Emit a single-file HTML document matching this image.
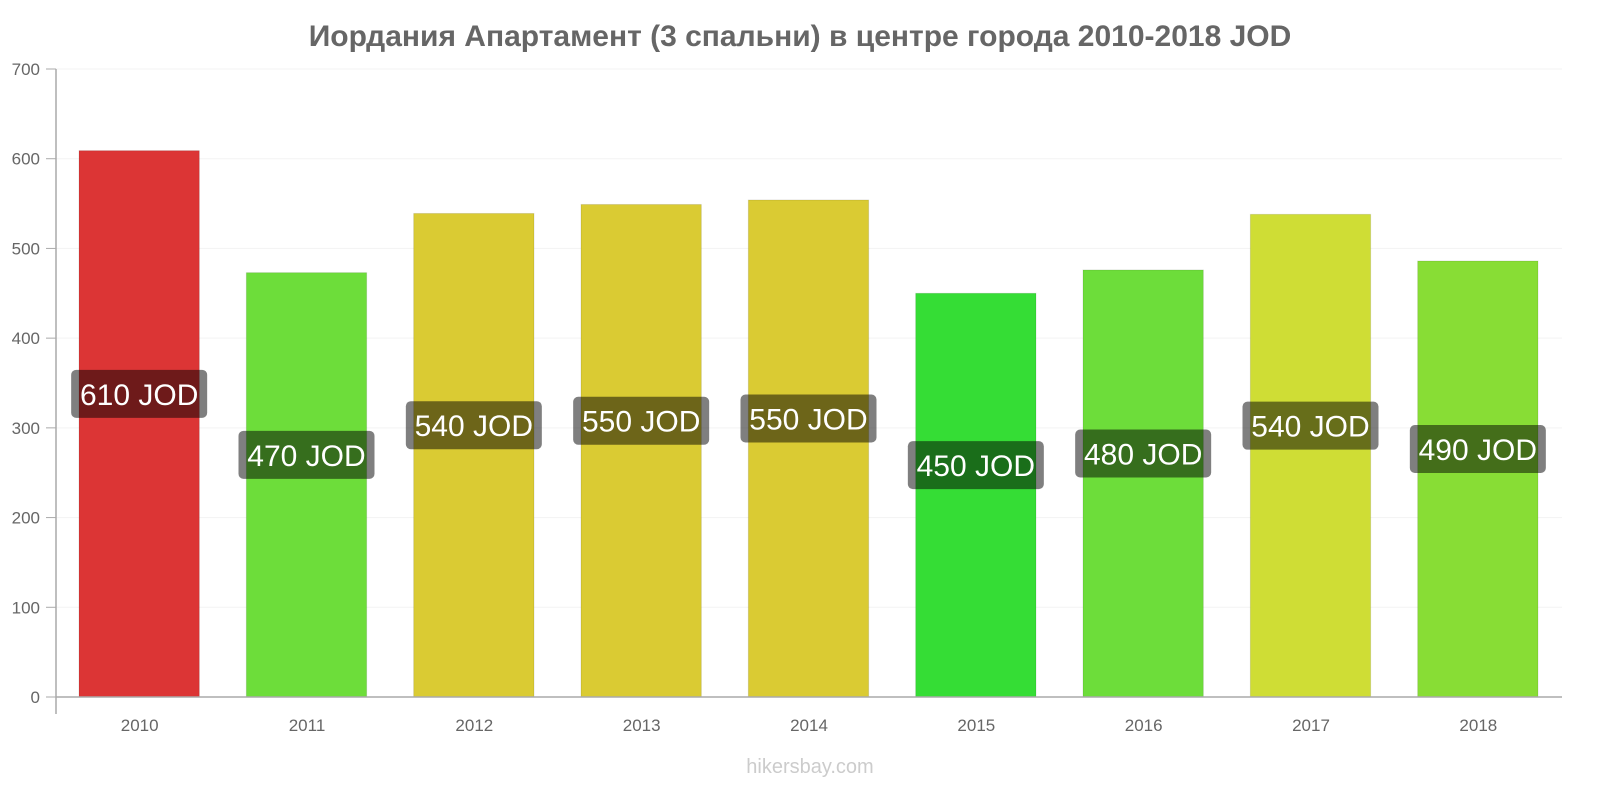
<!DOCTYPE html>
<html><head><meta charset="utf-8"><style>
html,body{margin:0;padding:0;background:#fff;overflow:hidden;width:1600px;height:800px;font-family:"Liberation Sans","DejaVu Sans",sans-serif}
svg{display:block}
</style></head><body>
<svg id="chart" width="1600" height="800" xmlns="http://www.w3.org/2000/svg">
<text x="800" y="46" text-anchor="middle" font-size="30" font-weight="bold" fill="#666">Иордания Апартамент (3 спальни) в центре города 2010-2018 JOD</text>
<g id="grid"></g><g id="bars"></g><g id="labels"></g><g id="axes"></g>
<text x="810" y="773" text-anchor="middle" font-size="20" fill="#ccc">hikersbay.com</text>
</svg>
<script>
const categories=["2010","2011","2012","2013","2014","2015","2016","2017","2018"];
const values=[609,473,539,549,554,450,476,538,486];
const labels=["610 JOD","470 JOD","540 JOD","550 JOD","550 JOD","450 JOD","480 JOD","540 JOD","490 JOD"];
const colors=["#dc3535","#6ddd3a","#dacb33","#dacb33","#dacb33","#35dd35","#6ddd3a","#cfdd35","#88dd35"];
const yTicks=[0,100,200,300,400,500,600,700];
const NS="http://www.w3.org/2000/svg";
const x0=56,x1=1562,y0=697,yTop=69;
const band=(x1-x0)/categories.length;
const y=v=>y0-(v/700)*(y0-yTop);
const bx=i=>x0+i*band;
function mk(t,a,p){const e=document.createElementNS(NS,t);for(const k in a)e.setAttribute(k,a[k]);p.appendChild(e);return e;}
const g=document.getElementById('grid'),b=document.getElementById('bars'),l=document.getElementById('labels'),ax=document.getElementById('axes');
yTicks.forEach(t=>{
 const ln=mk('line',{x1:x0,x2:x1,y1:y(t),y2:y(t),stroke:'#f3f3f3'},g);
 
 
 const tx=mk('text',{x:40,y:y(t)+6,'text-anchor':'end','font-size':17,fill:'#666'},ax);
 tx.textContent=t;
 
 
 mk('line',{x1:46,x2:x0,y1:y(t),y2:y(t),stroke:'#aaa'},ax);
});
mk('line',{x1:x0,x2:x0,y1:yTop,y2:714,stroke:'#aaa','stroke-width':1.5},ax);
mk('line',{x1:x0,x2:x1,y1:y0,y2:y0,stroke:'#aaa','stroke-width':1.5},ax);
categories.forEach((c,i)=>{
 const left=bx(i)+23,w=band-47,top=y(values[i]);
 const r=mk('rect',{x:left,y:top,width:w,height:y0-top,fill:colors[i],stroke:'rgba(0,0,0,0.1)'},b);
 
 
 const cx=left+w/2,cy=(top+y0)/2-30;
 const bg=mk('rect',{x:cx-68,y:cy-24,width:136,height:48,rx:5,fill:'rgba(0,0,0,0.5)'},l);
 
 
 const t=mk('text',{x:cx,y:cy+11,'text-anchor':'middle','font-size':30,fill:'#fff'},l);
 t.textContent=labels[i];
 
 
 const xt=mk('text',{x:bx(i)+band/2,y:731,'text-anchor':'middle','font-size':17,fill:'#666'},ax);
 xt.textContent=c;
 
 
});
</script>
</body></html>
